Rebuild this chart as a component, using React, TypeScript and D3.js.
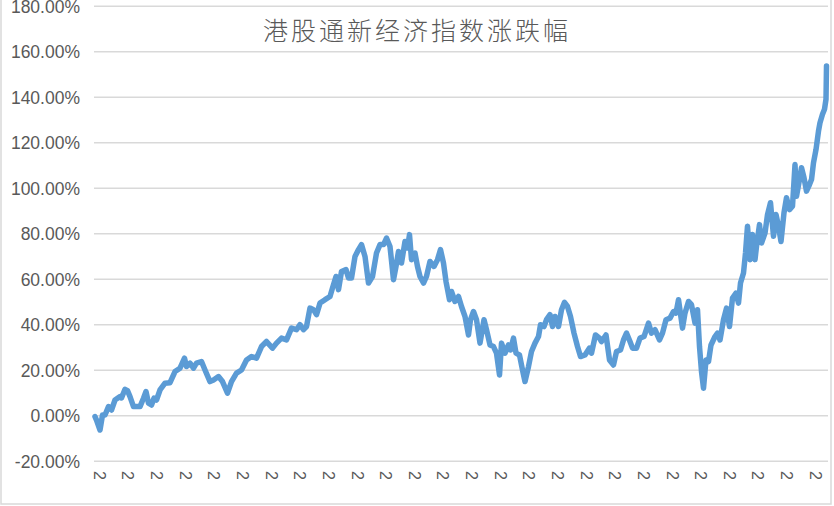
import * as d3 from 'd3';
import * as React from 'react';

const { useRef, useEffect } = React;

const width = 834;
const height = 506;

const title = '港股通新经济指数涨跌幅';

// trading-day index of each sampled point
const days = [
  0, 3, 10, 15, 20, 27, 33, 40, 50, 53, 60, 65, 70, 77, 83, 90, 97, 102, 107, 113,
  118, 123, 130, 140, 150, 160, 170, 179, 183, 190, 197, 203, 213, 220, 230, 237, 247, 255, 265, 273,
  283, 293, 303, 313, 323, 333, 343, 355, 363, 373, 383, 393, 403, 410, 417, 423, 430, 437, 443, 450,
  460, 470, 475, 482, 487, 493, 502, 507, 513, 520, 527, 533, 540, 547, 555, 563, 570, 577, 583, 590,
  597, 602, 607, 613, 620, 625, 629, 633, 640, 645, 650, 657, 663, 670, 678, 685, 691, 697, 702, 709,
  713, 720, 727, 733, 740, 747, 751, 757, 763, 770, 778, 783, 790, 797, 803, 809, 813, 820, 827, 831,
  837, 842, 849, 855, 860, 867, 873, 880, 887, 891, 898, 903, 910, 915, 920, 927, 933, 939, 945, 951,
  958, 965, 971, 980, 989, 993, 1001, 1009, 1013, 1022, 1029, 1037, 1043, 1051, 1057, 1063, 1070, 1075, 1083, 1090,
  1098, 1107, 1113, 1120, 1129, 1135, 1142, 1150, 1157, 1162, 1167, 1175, 1180, 1187, 1193, 1200, 1205, 1209, 1213, 1217,
  1222, 1227, 1232, 1240, 1245, 1250, 1257, 1263, 1269, 1275, 1282, 1287, 1291, 1297, 1301, 1305, 1310, 1315, 1320, 1323,
  1329, 1333, 1340, 1345, 1351, 1357, 1362, 1367, 1372, 1378, 1383, 1389, 1395, 1400, 1403, 1409, 1413, 1418, 1423, 1429,
  1433, 1437, 1442, 1447, 1450, 1455, 1459, 1462, 1463,
];

// cumulative change, %
const pct = [
  -0.4, -1.9, -6.3, 0.3, 0.3, 4.0, 2.5, 6.9, 8.4, 7.8, 11.6, 11.0, 8.4, 4.0, 4.0, 4.0, 7.7, 10.6, 5.5, 4.7,
  7.7, 6.9, 11.3, 14.3, 14.5, 19.4, 20.9, 25.3, 21.6, 23.1, 20.9, 23.1, 23.8, 20.1, 15.0, 15.7, 17.2, 15.0, 9.9, 15.0,
  18.7, 20.1, 24.5, 26.0, 25.3, 30.4, 32.6, 29.7, 31.9, 34.1, 33.3, 38.5, 37.8, 40.0, 37.8, 39.2, 47.3, 46.6, 44.4, 49.5,
  51.0, 52.4, 56.1, 61.2, 55.4, 63.4, 64.2, 60.5, 60.5, 70.0, 73.0, 75.2, 70.0, 58.3, 61.2, 71.5, 75.2, 75.2, 78.1, 74.4,
  59.8, 65.6, 72.2, 67.1, 76.6, 73.7, 79.6, 68.6, 71.5, 65.6, 61.2, 58.3, 61.2, 67.8, 65.6, 68.6, 73.0, 67.1, 59.0, 51.0,
  54.6, 50.2, 52.4, 48.0, 43.6, 35.5, 42.2, 45.8, 42.2, 31.9, 42.2, 37.8, 31.1, 30.4, 27.5, 17.9, 31.9, 27.5, 31.1, 28.9,
  34.1, 27.5, 26.7, 20.1, 15.0, 21.6, 28.2, 31.9, 34.8, 40.0, 39.2, 42.2, 44.4, 39.2, 43.6, 39.2, 46.6, 49.8, 48.0, 43.6,
  36.3, 30.4, 26.0, 26.7, 29.7, 27.5, 35.5, 34.1, 32.6, 35.5, 24.5, 22.3, 28.2, 28.9, 33.3, 36.3, 32.6, 29.7, 29.7, 34.1,
  34.8, 40.7, 36.3, 37.8, 33.3, 36.3, 42.2, 42.9, 45.8, 45.1, 51.0, 38.5, 45.1, 50.2, 48.8, 40.7, 46.6, 30.4, 19.4, 12.1,
  24.5, 23.8, 31.1, 34.8, 36.3, 33.3, 42.2, 47.3, 39.2, 51.7, 53.9, 49.5, 58.3, 62.7, 71.5, 83.3, 68.6, 79.6, 68.6, 74.4,
  84.0, 75.9, 80.3, 88.4, 93.6, 78.9, 88.4, 83.3, 76.6, 89.2, 95.8, 90.6, 92.1, 110.4, 96.5, 103.8, 109.0, 104.6, 98.7, 101.6,
  103.8, 111.2, 117.0, 125.1, 128.8, 132.5, 134.7, 139.1, 153.7,
];

const yTicks = [-20, 0, 20, 40, 60, 80, 100, 120, 140, 160, 180];

// category labels shown on the axis (truncated dates)
const tickDays = [
  9, 66, 124, 181, 238, 295, 353, 410, 467, 525, 582, 639, 696, 754, 811, 868, 925, 983, 1040, 1097,
  1155, 1212, 1269, 1326, 1384, 1441,
];
const tickLabels = tickDays.map(() => '2');

const latin = '"Liberation Sans", Arial, Helvetica, sans-serif';
const cjk = '"Noto Sans CJK SC", "Noto Sans", sans-serif';

export default () => {
  const rootRef = useRef<SVGSVGElement>(null);

  useEffect(() => {
    const rootEl = rootRef.current;
    if (!rootEl) {
      return;
    }
    document.body.style.margin = '0';

    const svg = d3.select(rootEl);
    svg.selectAll('*').remove();

    const x = d3.scaleLinear().domain([0, 1463]).range([95, 826.5]);
    const y = d3.scaleLinear().domain([-20, 180]).range([461.2, 6.2]);

    // frame
    svg
      .append('rect')
      .attr('x', 1)
      .attr('y', -10)
      .attr('width', 830)
      .attr('height', 514)
      .attr('fill', '#fff')
      .attr('stroke', '#d9d9d9')
      .attr('stroke-width', 1.5);

    // grid
    svg
      .append('g')
      .selectAll('line')
      .data(yTicks)
      .join('line')
      .attr('x1', 94)
      .attr('x2', 828)
      .attr('y1', d => y(d))
      .attr('y2', d => y(d))
      .attr('stroke', '#d9d9d9')
      .attr('stroke-width', 1.5);

    // y labels
    svg
      .append('g')
      .selectAll('text')
      .data(yTicks)
      .join('text')
      .attr('x', 80)
      .attr('y', d => y(d))
      .attr('dy', '0.36em')
      .attr('text-anchor', 'end')
      .style('font', `17.5px ${latin}`)
      .attr('fill', '#595959')
      .text(d => `${d.toFixed(2)}%`);

    // x labels, rotated
    svg
      .append('g')
      .selectAll('text')
      .data(tickDays)
      .join('text')
      .attr('transform', d => `translate(${x(d)},471) rotate(90)`)
      .attr('dy', '0.35em')
      .attr('text-anchor', 'start')
      .style('font', `16px ${latin}`)
      .attr('fill', '#595959')
      .text((d, i) => tickLabels[i]);

    const line = d3
      .line<number>()
      .x((d, i) => x(days[i]))
      .y(d => y(d));

    svg
      .append('path')
      .datum(pct)
      .attr('fill', 'none')
      .attr('stroke', '#5b9bd5')
      .attr('stroke-width', 5.5)
      .attr('stroke-linejoin', 'round')
      .attr('stroke-linecap', 'round')
      .attr('d', line);

    svg
      .append('text')
      .attr('x', 417)
      .attr('y', 31)
      .attr('dy', '0.36em')
      .attr('text-anchor', 'middle')
      .style('font', `300 25px ${cjk}`)
      .style('letter-spacing', '3px')
      .attr('fill', '#595959')
      .text(title);
  }, []);

  return (
    <svg
      ref={rootRef}
      width={width}
      height={height}
      style={{ display: 'block', position: 'absolute', left: 0, top: 0 }}
    />
  );
};
